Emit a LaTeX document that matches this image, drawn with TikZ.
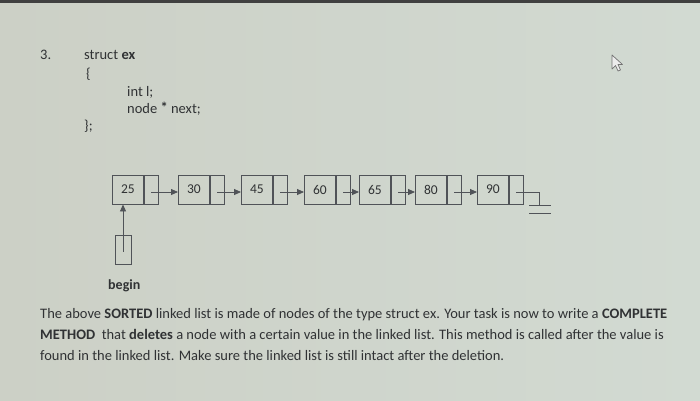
\documentclass[tikz,border=0pt]{standalone}
\usepackage{fontspec}
\setmainfont{Carlito}
\usetikzlibrary{arrows.meta,calc}
\definecolor{bgA}{RGB}{204,208,198}
\definecolor{bgB}{RGB}{210,218,210}
\definecolor{ink}{RGB}{48,50,52}
\definecolor{lineink}{RGB}{80,83,88}
\tikzset{
  cell/.style={draw=lineink, line width=0.85pt, minimum height=29pt, inner sep=0pt, anchor=west, font=\fontsize{13.5}{14}\selectfont, text=ink},
  datacell/.style={cell, minimum width=31pt},
  ptrcell/.style={cell, minimum width=14pt},
  link/.style={draw=lineink, line width=0.85pt, -{Triangle[length=7pt,width=6pt]}},
  nulline/.style={draw=lineink, line width=0.85pt},
  code/.style={anchor=base west, text=ink, font=\fontsize{14.5}{16}\selectfont, inner sep=0pt},
  para/.style={anchor=base west, text=ink, font=\fontsize{14.5}{16}\selectfont, inner sep=0pt}
}
\begin{document}
\begin{tikzpicture}[x=1pt,y=-1pt]
\useasboundingbox (0,0) rectangle (700,400);
\shade[left color=bgA, right color=bgB] (0,0) rectangle (700,400);
\fill[black!75] (0,0) rectangle (700,3);
% code
\node[code] (num) at (40,59) {3.};
\node[code] (st) at (84,59) {struct \textbf{ex}};
\node[code] (ob) at (86,78) {\{};
\node[code] (f1) at (127,96) {int l;};
\node[code] (f2) at (127,113) {node \raisebox{1pt}{\bfseries*} next;};
\node[code] (cb) at (84,130) {\};};
% list
\node[datacell] (d25) at (112,189.5) {25};
\node[ptrcell] (p25) at (d25.east) {};
\node[datacell] (d30) at (178,189.5) {30};
\node[ptrcell] (p30) at (d30.east) {};
\node[datacell] (d45) at (241,189.5) {45};
\node[ptrcell] (p45) at (d45.east) {};
\node[datacell] (d60) at (304,189.5) {60};
\node[ptrcell] (p60) at (d60.east) {};
\node[datacell] (d65) at (359,189.5) {65};
\node[ptrcell] (p65) at (d65.east) {};
\node[datacell] (d80) at (415,189.5) {80};
\node[ptrcell] (p80) at (d80.east) {};
\node[datacell] (d90) at (477,189.5) {90};
\node[ptrcell] (p90) at (d90.east) {};
\foreach \a/\b in {25/30,30/45,45/60,60/65,65/80,80/90}{
  \draw[link] ([yshift=-2.5pt]p\a.center) -- ([yshift=-2.5pt]d\b.west);
}
% null
\coordinate (nc) at (539,205);
\coordinate (g1l) at (529,205);
\coordinate (g1r) at (551,205);
\coordinate (g2l) at (529,213);
\coordinate (g2r) at (551,213);
\draw[nulline] ([yshift=-2.5pt]p90.center) -| (nc);
\draw[nulline] (g1l) -- (g1r);
\draw[nulline] (g2l) -- (g2r);
% begin
\node[draw=lineink, line width=0.85pt, minimum width=16pt, minimum height=29pt, inner sep=0pt] (beg) at (123,249.5) {};
\draw[link] ([yshift=-2pt]beg.center) -- (beg.center |- d25.south);
\node[code, font=\fontsize{14}{15}\selectfont\bfseries] (begl) at (108,289) {begin};
% paragraph
\node[para] (l1) at (40,318) {The above \textbf{SORTED} linked list is made of nodes of the type struct ex. Your task is now to write a \textbf{COMPLETE}};
\node[para] (l2) at (40,339.5) {\textbf{METHOD}\ \ that \textbf{deletes} a node with a certain value in the linked list. This method is called after the value is};
\node[para] (l3) at (40,360) {found in the linked list. Make sure the linked list is still intact after the deletion.};
% cursor
\draw[draw=black!55, fill=white!85!gray, line width=0.7pt, line join=round]
  (612,55) -- (612,69) -- (615.5,65.5) -- (618,71) -- (620.5,70) -- (618,64.5) -- (622.5,64.5) -- cycle;
\end{tikzpicture}
\end{document}
